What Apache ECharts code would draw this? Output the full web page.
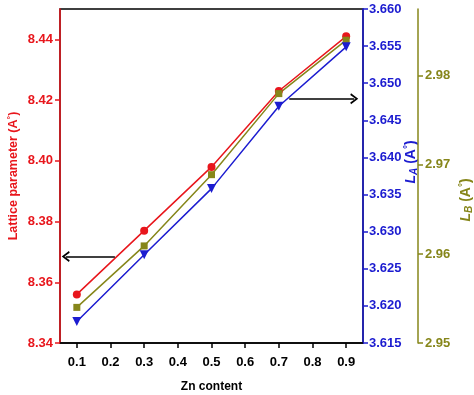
<!DOCTYPE html>
<html><head><meta charset="utf-8">
<script src="https://cdn.jsdelivr.net/npm/echarts@6/dist/echarts.min.js"></script>
<style>html,body{margin:0;padding:0;background:#fff}#c{width:474px;height:395px}</style>
</head><body><div id="c"></div>
<script>
const znContent = [0.1, 0.3, 0.5, 0.7, 0.9];
const latticeParam = [8.356, 8.377, 8.398, 8.423, 8.441];
const lA = [3.6179, 3.6269, 3.6358, 3.6469, 3.6549];
const lB = [2.9540, 2.9609, 2.9689, 2.9780, 2.9840];
const xTicks = [0.1, 0.2, 0.3, 0.4, 0.5, 0.6, 0.7, 0.8, 0.9];
const leftTicks = [8.34, 8.36, 8.38, 8.40, 8.42, 8.44];
const laTicks = [3.615, 3.620, 3.625, 3.630, 3.635, 3.640, 3.645, 3.650, 3.655, 3.660];
const lbTicks = [2.95, 2.96, 2.97, 2.98];
// annotation arrows (data coords)
const leftArrow = {y: 8.3685, from: 0.213, to: 0.067};
const rightArrow = {y: 3.6479, from: 0.731, to: 0.924};

const RED = '#e8161c', BLUE = '#1c1cd0', OLIVE = '#86861a';
const FONT = 'Liberation Sans, Arial, sans-serif';
const NARROW = 'Liberation Sans Narrow, Arial Narrow, Liberation Sans, sans-serif';
const CHEVRON = 'path://M5,0 L10,9 L8.4,10 L5,3.4 L1.6,10 L0,9 Z';

function pair(a) { return znContent.map((x, i) => [x, a[i]]); }

const chart = echarts.init(document.getElementById('c'), null, {renderer: 'canvas'});
const nameRich = (col, fs) => ({
  i: {fontStyle: 'italic', fontWeight: 'bold', fontSize: fs, color: col, fontFamily: FONT},
  s: {fontStyle: 'italic', fontWeight: 'bold', fontSize: fs * 0.72, color: col, fontFamily: FONT, padding: [6, 0, 0, 0]},
  n: {fontWeight: 'bold', fontSize: fs, color: col, fontFamily: FONT},
  sup: {fontWeight: 'bold', fontSize: fs * 0.72, color: col, fontFamily: FONT, padding: [0, 0, 7, 0]}
});
const tickLabel = (col, dec, margin) => ({
  formatter: v => v.toFixed(dec), fontWeight: 'bold', fontSize: 13, color: col, fontFamily: NARROW, margin: margin
});
const arrowLine = (a) => ({
  silent: true, symbol: ['none', CHEVRON], symbolSize: [11, 8],
  label: {show: false},
  lineStyle: {color: '#000', width: 1.5, type: 'solid'},
  data: [[{coord: [a.from, a.y]}, {coord: [a.to, a.y]}]]
});

chart.setOption({
  animation: false,
  grid: {left: 60, right: 111, top: 9, bottom: 52, outerBoundsMode: 'none', containLabel: false,
         show: true, borderColor: '#000', borderWidth: 1.5, backgroundColor: 'transparent'},
  xAxis: {
    type: 'value', min: 0.05, max: 0.95,
    name: 'Zn content', nameLocation: 'middle', nameGap: 38, nameMoveOverlap: false,
    nameTextStyle: {fontWeight: 'bold', fontSize: 12, color: '#000', fontFamily: FONT},
    axisLine: {lineStyle: {color: '#000', width: 1.5}},
    axisTick: {customValues: xTicks, length: 5, lineStyle: {color: '#000', width: 1.5}},
    axisLabel: Object.assign({customValues: xTicks}, tickLabel('#000', 1, 13)),
    splitLine: {show: false}
  },
  yAxis: [{
    type: 'value', min: 8.34, max: 8.45, position: 'left',
    name: '{n|Lattice parameter (A}{sup|°}{n|)}', nameLocation: 'middle', nameGap: 38, nameRotate: 90,
    nameMoveOverlap: false,
    nameTextStyle: {rich: nameRich(RED, 12.5)},
    axisLine: {show: true, lineStyle: {color: RED, width: 1.5}},
    axisTick: {show: true, customValues: leftTicks, length: 5, lineStyle: {color: RED, width: 1.5}},
    axisLabel: Object.assign({customValues: leftTicks}, tickLabel(RED, 2, 7)),
    splitLine: {show: false}
  }, {
    type: 'value', min: 3.615, max: 3.660, position: 'right',
    name: '{i|L}{s|A}{n| (A}{sup|°}{n|)}', nameLocation: 'middle', nameGap: 40, nameRotate: 90,
    nameMoveOverlap: false,
    nameTextStyle: {rich: nameRich(BLUE, 14), padding: [0, 0, 0, 28]},
    axisLine: {show: true, lineStyle: {color: BLUE, width: 1.5}},
    axisTick: {show: true, customValues: laTicks, length: 5, lineStyle: {color: BLUE, width: 1.5}},
    axisLabel: Object.assign({customValues: laTicks}, tickLabel(BLUE, 3, 6)),
    splitLine: {show: false}
  }, {
    type: 'value', min: 2.95, max: 2.9875, position: 'right', offset: 55,
    name: '{i|L}{s|B}{n| (A}{sup|°}{n|)}', nameLocation: 'middle', nameGap: 40, nameRotate: 90,
    nameMoveOverlap: false,
    nameTextStyle: {rich: nameRich(OLIVE, 14), padding: [0, 48, 0, 0]},
    axisLine: {show: true, lineStyle: {color: OLIVE, width: 1.5}},
    axisTick: {show: true, customValues: lbTicks, length: 5, lineStyle: {color: OLIVE, width: 1.5}},
    axisLabel: Object.assign({customValues: lbTicks}, tickLabel(OLIVE, 2, 7)),
    splitLine: {show: false}
  }],
  series: [{
    type: 'line', yAxisIndex: 0, data: pair(latticeParam),
    symbol: 'circle', symbolSize: 8,
    itemStyle: {color: RED}, lineStyle: {color: RED, width: 1.5},
    markLine: arrowLine(leftArrow)
  }, {
    type: 'line', yAxisIndex: 2, data: pair(lB),
    symbol: 'rect', symbolSize: 7,
    itemStyle: {color: OLIVE}, lineStyle: {color: OLIVE, width: 1.5}
  }, {
    type: 'line', yAxisIndex: 1, data: pair(lA),
    symbol: 'triangle', symbolRotate: 180, symbolSize: 9,
    itemStyle: {color: BLUE}, lineStyle: {color: BLUE, width: 1.5},
    markLine: arrowLine(rightArrow)
  }]
});
</script></body></html>
